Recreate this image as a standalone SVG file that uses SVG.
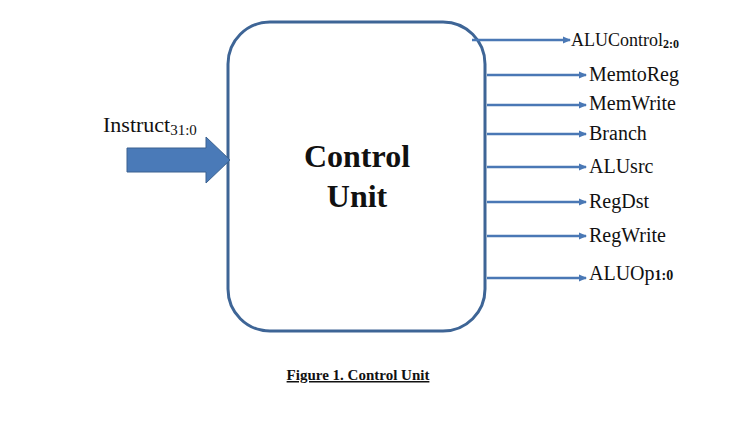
<svg xmlns="http://www.w3.org/2000/svg" width="747" height="427" viewBox="0 0 747 427">
<style>
text{font-family:"Liberation Serif",serif;fill:#111}
.lbl{font-size:20px}
.c{stroke:#4a78b5;stroke-width:2.5;fill:none}
</style>
<defs><marker id="ah" markerWidth="8" markerHeight="8" refX="7" refY="4" orient="auto" markerUnits="userSpaceOnUse"><path d="M0,0.5 L8,4 L0,7.5 Z" fill="#4a78b5"/></marker></defs>
<rect width="747" height="427" fill="#fff"/>
<g id="control-unit">
<rect x="228" y="22" width="257" height="309" rx="42" fill="#fff" stroke="#3e6596" stroke-width="3"/>
<text x="357" y="167" text-anchor="middle" font-size="32" font-weight="bold">Control</text>
<text x="357" y="207" text-anchor="middle" font-size="32" font-weight="bold">Unit</text>
</g>
<g id="input">
<path d="M127,148 H206 V137 L230,160 L206,183 V172 H127 Z" fill="#4a7ab8" stroke="#3a6190" stroke-width="1"/>
<text x="103" y="132" font-size="22">Instruct<tspan font-size="15" dy="3">31:0</tspan></text>
</g>
<g id="connectors">
<line class="c" x1="472" y1="40" x2="570" y2="40" marker-end="url(#ah)"/>
<line class="c" x1="487" y1="75" x2="586" y2="75" marker-end="url(#ah)"/>
<line class="c" x1="487" y1="105" x2="586" y2="105" marker-end="url(#ah)"/>
<line class="c" x1="487" y1="134" x2="586" y2="134" marker-end="url(#ah)"/>
<line class="c" x1="487" y1="167" x2="586" y2="167" marker-end="url(#ah)"/>
<line class="c" x1="487" y1="202" x2="586" y2="202" marker-end="url(#ah)"/>
<line class="c" x1="487" y1="236" x2="586" y2="236" marker-end="url(#ah)"/>
<line class="c" x1="487" y1="278" x2="586" y2="278" marker-end="url(#ah)"/>
</g>
<g id="outputs">
<text x="571" y="46" font-size="18">ALUControl<tspan font-size="12" font-weight="bold" dy="2">2:0</tspan></text>
<text class="lbl" x="589" y="81">MemtoReg</text>
<text class="lbl" x="589" y="110">MemWrite</text>
<text class="lbl" x="589" y="140">Branch</text>
<text class="lbl" x="589" y="173">ALUsrc</text>
<text class="lbl" x="589" y="208">RegDst</text>
<text class="lbl" x="589" y="242">RegWrite</text>
<text class="lbl" x="589" y="280">ALUOp<tspan font-size="14" font-weight="bold">1:0</tspan></text>
</g>
<text x="358" y="380" text-anchor="middle" font-size="15" font-weight="bold" text-decoration="underline">Figure 1. Control Unit</text>
</svg>
